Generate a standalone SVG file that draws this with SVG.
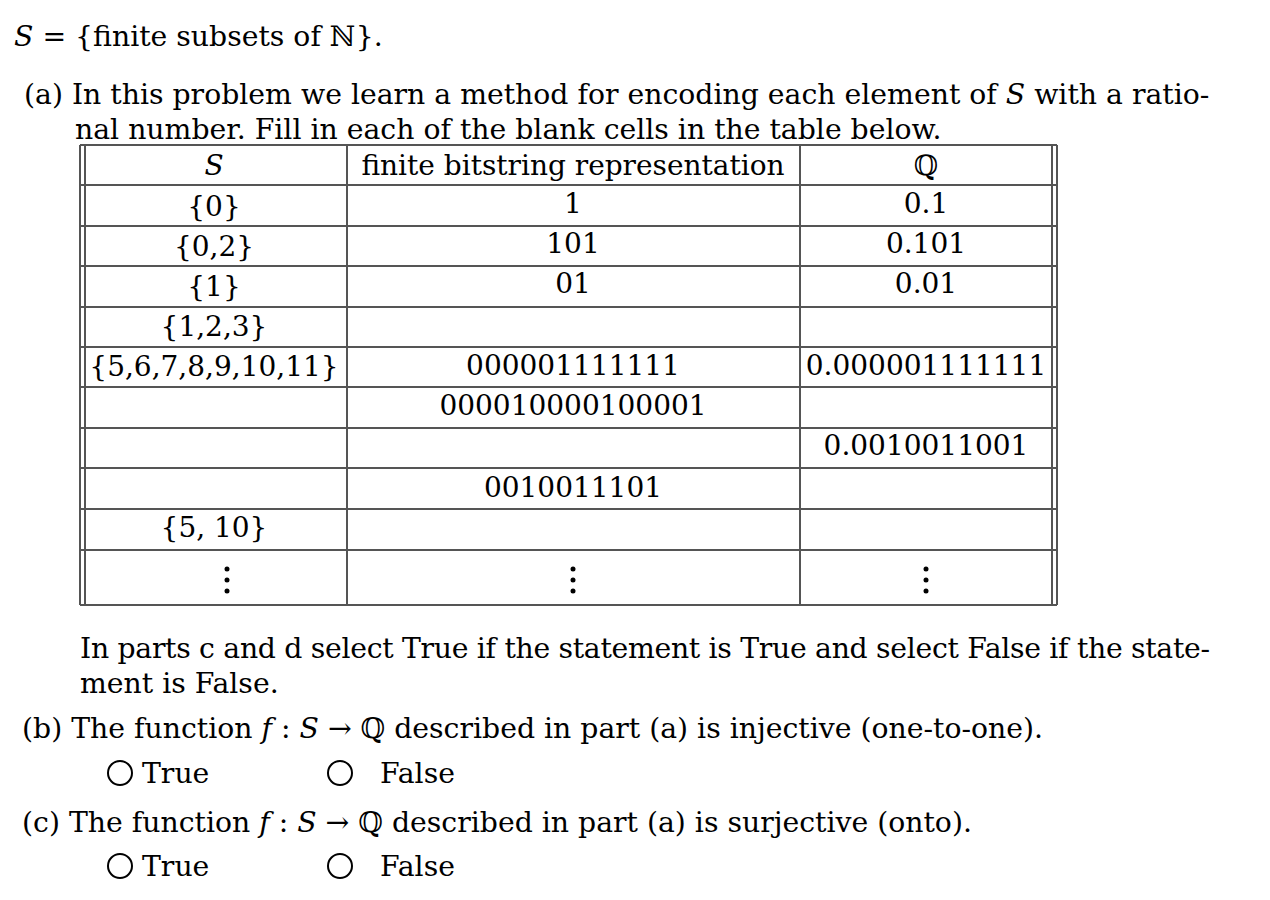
<svg xmlns="http://www.w3.org/2000/svg" width="1270" height="900" viewBox="0 0 1270 900">
<style>
text{font-family:"DejaVu Serif","Liberation Serif",serif;fill:#000}
.b{font-size:28.3px}
.t{font-size:28px;text-anchor:middle}
.l{stroke:#555;stroke-width:2;fill:none}
.c{fill:none;stroke:#000;stroke-width:2}
</style>
<rect width="1270" height="900" fill="#fff"/>
<text x="14" y="46" class="b"><tspan font-style="italic">S</tspan> = {finite subsets of ℕ}.</text>
<text x="24" y="104" class="b">(a) In this problem we learn a method for encoding each element of <tspan font-style="italic">S</tspan> with a ratio-</text>
<text x="75" y="139" class="b">nal number. Fill in each of the blank cells in the table below.</text>
<g id="table">
<line class="l" x1="80" y1="145" x2="80" y2="605"/>
<line class="l" x1="85" y1="145" x2="85" y2="605"/>
<line class="l" x1="1052" y1="145" x2="1052" y2="605"/>
<line class="l" x1="1057" y1="145" x2="1057" y2="605"/>
<line class="l" x1="347" y1="145" x2="347" y2="605"/>
<line class="l" x1="800" y1="145" x2="800" y2="605"/>
<g stroke="#555" stroke-width="2">
<line x1="80" y1="145" x2="1057" y2="145"/>
<line x1="80" y1="185" x2="1057" y2="185"/>
<line x1="80" y1="226" x2="1057" y2="226"/>
<line x1="80" y1="266" x2="1057" y2="266"/>
<line x1="80" y1="307" x2="1057" y2="307"/>
<line x1="80" y1="347" x2="1057" y2="347"/>
<line x1="80" y1="387" x2="1057" y2="387"/>
<line x1="80" y1="428" x2="1057" y2="428"/>
<line x1="80" y1="468" x2="1057" y2="468"/>
<line x1="80" y1="509" x2="1057" y2="509"/>
<line x1="80" y1="550" x2="1057" y2="550"/>
<line x1="80" y1="605" x2="1057" y2="605"/>
</g>
<text class="t" x="214" y="175" font-style="italic">S</text>
<text class="t" x="573" y="175">finite bitstring representation</text>
<text class="t" x="926" y="175">ℚ</text>
<text class="t" x="214" y="216">{0}</text><text class="t" x="573" y="213">1</text><text class="t" x="926" y="213">0.1</text>
<text class="t" x="214" y="256">{0,2}</text><text class="t" x="573" y="253">101</text><text class="t" x="926" y="253">0.101</text>
<text class="t" x="214" y="296">{1}</text><text class="t" x="573" y="293">01</text><text class="t" x="926" y="293">0.01</text>
<text class="t" x="214" y="336">{1,2,3}</text>
<text class="t" x="214" y="376">{5,6,7,8,9,10,11}</text><text class="t" x="573" y="375">000001111111</text><text class="t" x="926" y="375">0.000001111111</text>
<text class="t" x="573" y="415">000010000100001</text>
<text class="t" x="926" y="455">0.0010011001</text>
<text class="t" x="573" y="497">0010011101</text>
<text class="t" x="214" y="537">{5, 10}</text>
<g fill="#000"><circle cx="227" cy="569" r="2.5"/><circle cx="227" cy="580" r="2.5"/><circle cx="227" cy="591" r="2.5"/>
<circle cx="573" cy="569" r="2.5"/><circle cx="573" cy="580" r="2.5"/><circle cx="573" cy="591" r="2.5"/>
<circle cx="926" cy="569" r="2.5"/><circle cx="926" cy="580" r="2.5"/><circle cx="926" cy="591" r="2.5"/></g>
</g>
<text x="80" y="658" class="b" textLength="1130">In parts c and d select True if the statement is True and select False if the state-</text>
<text x="80" y="693" class="b">ment is False.</text>
<text x="22" y="738" class="b">(b) The function <tspan font-style="italic">f</tspan> : <tspan font-style="italic">S</tspan> → ℚ described in part (a) is injective (one-to-one).</text>
<circle class="c" cx="120" cy="773" r="12"/><text x="142" y="783" class="b">True</text>
<circle class="c" cx="340" cy="773" r="12"/><text x="380" y="783" class="b">False</text>
<text x="22" y="832" class="b">(c) The function <tspan font-style="italic">f</tspan> : <tspan font-style="italic">S</tspan> → ℚ described in part (a) is surjective (onto).</text>
<circle class="c" cx="120" cy="866" r="12"/><text x="142" y="876" class="b">True</text>
<circle class="c" cx="340" cy="866" r="12"/><text x="380" y="876" class="b">False</text>
</svg>
